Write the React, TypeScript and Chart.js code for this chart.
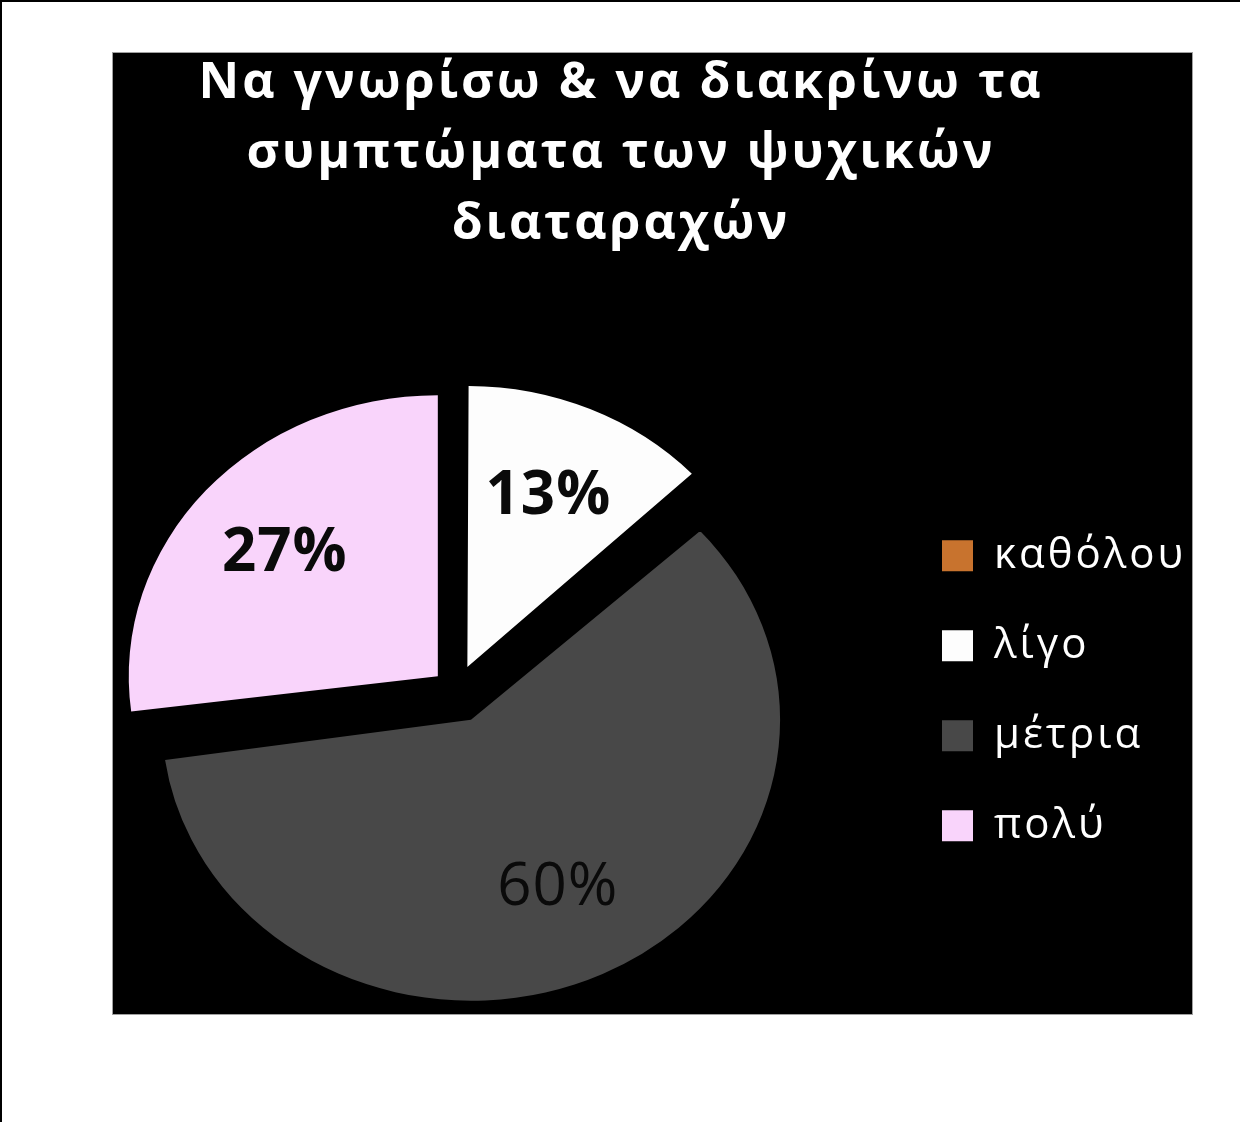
import React, { useEffect, useRef } from 'react';
import { Chart, registerables } from 'chart.js';

Chart.register(...registerables);

// ---- data ----
const titleLines = ['Να γνωρίσω & να διακρίνω τα', 'συμπτώματα των ψυχικών', 'διαταραχών'];
const categories = ['καθόλου', 'λίγο', 'μέτρια', 'πολύ'];
const percentValues = [0, 13, 60, 27];

// ---- styles ----
const sliceColors = ['#c8732e', '#fdfdfd', '#484848', '#f9d4fb'];
const sliceOffsets = [0, 104, 128, 88];
const labelWeights = ['bold', 'bold', 'normal', 'bold'];

const FONT = '"Open Sans", "Noto Sans", sans-serif';
const STRETCH_X = 1.1;
const PIE_RADIUS = 281;
const LABEL_FRACTION = 0.66;
const TEXT_SPACING = '3px';
const TITLE_SIZE = 50;
const TITLE_CENTER_X = 621;
const LEGEND_FONT_SIZE = 42;
const LEGEND_BOX = 31;
const LEGEND_PAD = 48;
const LEGEND_BOX_X = 942;
const PAD_LEFT = 18;
const CANVAS_W = 1240;
const CANVAS_H = 1122;

const piePlugin = {
  id: 'ellipsePie',
  beforeLayout(chart: any) {
    chart.ctx.letterSpacing = TEXT_SPACING;
  },
  afterLayout(chart: any) {
    const t = chart.titleBlock;
    if (t) {
      const w = t.right - t.left;
      t.left = TITLE_CENTER_X - w / 2;
      t.right = TITLE_CENTER_X + w / 2;
    }
  },
  beforeDraw(chart: any) {
    chart.ctx.letterSpacing = TEXT_SPACING;
  },
  beforeDatasetsDraw(chart: any) {
    const meta = chart.getDatasetMeta(0);
    const first: any = meta.data[0];
    if (!first) return;
    const ctx = chart.ctx;
    ctx.save();
    ctx.translate(first.x, first.y);
    ctx.scale(STRETCH_X, 1);
    ctx.translate(-first.x, -first.y);
    meta.data.forEach((arc: any) => {
      const off = (arc.options.offset || 0) / 4;
      const fix = 1 - Math.sin(Math.min(Math.PI, arc.circumference || 0));
      arc.$baseOuter = arc.outerRadius;
      arc.outerRadius = arc.outerRadius - off * fix;
    });
  },
  afterDatasetsDraw(chart: any) {
    const meta = chart.getDatasetMeta(0);
    if (!meta.data.length) return;
    const ctx = chart.ctx;
    ctx.restore();
    meta.data.forEach((arc: any) => {
      if (arc.$baseOuter !== undefined) arc.outerRadius = arc.$baseOuter;
    });
    const values: number[] = chart.data.datasets[0].data;
    const total = values.reduce((a, b) => a + b, 0);
    meta.data.forEach((arc: any, i: number) => {
      const v = values[i];
      if (!v) return;
      const mid = (arc.startAngle + arc.endAngle) / 2;
      const off = (arc.options.offset || 0) / 4;
      const d = off + arc.outerRadius * LABEL_FRACTION;
      const px = arc.x + STRETCH_X * Math.cos(mid) * d;
      const py = arc.y + Math.sin(mid) * d;
      ctx.save();
      ctx.letterSpacing = '1px';
      ctx.font = `${labelWeights[i]} 60px ${FONT}`;
      ctx.fillStyle = '#0a0a0a';
      ctx.textAlign = 'center';
      ctx.textBaseline = 'middle';
      ctx.fillText(`${Math.round((v / total) * 100)}%`, px, py);
      ctx.restore();
    });
    ctx.letterSpacing = TEXT_SPACING;
  },
};

export default function App() {
  const ref = useRef<HTMLCanvasElement | null>(null);

  useEffect(() => {
    if (!ref.current) return;
    const m = document.createElement('canvas').getContext('2d') as any;
    m.font = `${LEGEND_FONT_SIZE}px ${FONT}`;
    m.letterSpacing = TEXT_SPACING;
    const textW = Math.max(...categories.map((c) => m.measureText(c).width));
    const legendWidth = LEGEND_PAD + LEGEND_BOX + LEGEND_FONT_SIZE / 2 + textW + 10;
    const legendLeft = LEGEND_BOX_X - LEGEND_PAD;
    const padRight = CANVAS_W - legendLeft - legendWidth;

    const chart = new Chart(ref.current, {
      type: 'pie',
      data: {
        labels: categories,
        datasets: [
          {
            data: percentValues,
            backgroundColor: sliceColors,
            borderWidth: 0,
            offset: sliceOffsets,
          },
        ],
      },
      options: {
        responsive: false,
        animation: false,
        radius: PIE_RADIUS,
        layout: { padding: { left: PAD_LEFT, right: padRight, top: 0, bottom: 0 } },
        plugins: {
          tooltip: { enabled: false },
          title: {
            display: true,
            text: titleLines,
            color: '#ffffff',
            font: { family: FONT, size: TITLE_SIZE, weight: 'bold', lineHeight: 70.5 / TITLE_SIZE },
            padding: { top: 48, bottom: 0 },
          },
          legend: {
            position: 'right',
            fullSize: false,
            labels: {
              color: '#ffffff',
              font: { family: FONT, size: LEGEND_FONT_SIZE },
              boxWidth: LEGEND_BOX,
              boxHeight: LEGEND_BOX,
              padding: LEGEND_PAD,
            },
          },
        },
      } as any,
      plugins: [piePlugin as any],
    });
    return () => chart.destroy();
  }, []);

  return (
    <div
      style={{
        position: 'fixed',
        left: 0,
        top: 0,
        width: CANVAS_W,
        height: CANVAS_H,
        background: '#ffffff',
        borderTop: '2px solid #000',
        borderLeft: '2px solid #000',
        boxSizing: 'border-box',
      }}
    >
      <div
        style={{
          position: 'absolute',
          left: 110,
          top: 50,
          width: 1081,
          height: 963,
          background: '#000',
          border: '1px solid #a0a0a0',
          boxSizing: 'border-box',
        }}
      />
      <canvas
        ref={ref}
        width={CANVAS_W}
        height={CANVAS_H}
        style={{ position: 'absolute', left: -2, top: -2, width: CANVAS_W, height: CANVAS_H }}
      />
    </div>
  );
}
